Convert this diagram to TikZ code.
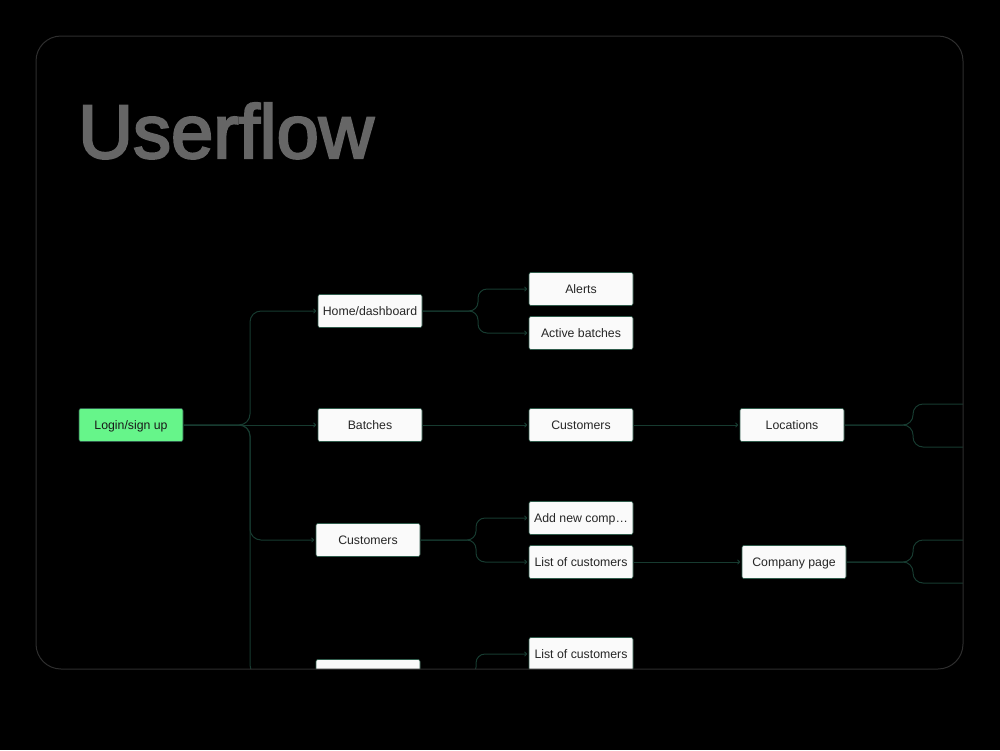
\documentclass[tikz,border=0pt]{standalone}
\usepackage{fontspec}
\setmainfont{Liberation Sans}
\newfontfamily\titlefont[FakeBold=3]{Liberation Sans}
\usepackage{tikz}
\usetikzlibrary{arrows.meta}
\definecolor{framecol}{HTML}{2E2E2E}
\definecolor{titlecol}{HTML}{666666}
\definecolor{boxcol}{HTML}{FAFAFA}
\definecolor{boxline}{HTML}{2F5B4B}
\definecolor{linkcol}{HTML}{173B30}
\definecolor{logincol}{HTML}{66F58A}

\begin{document}
\begin{tikzpicture}[x=1pt,y=-1pt]
\tikzstyle{screen}=[draw=boxline, line width=0.6pt, fill=boxcol,
                    rounded corners=2pt, minimum width=104pt,
                    minimum height=33pt, inner sep=0pt,
                    text height=11pt, text depth=2pt,
                    font=\fontsize{12.3}{14}\selectfont, text=black!85]
\tikzstyle{link}=[draw=linkcol, line width=1pt, rounded corners=11pt,
                  -{To[length=3pt,width=5pt]}, shorten >=1.5pt]
\tikzstyle{stub}=[draw=linkcol, line width=1pt, rounded corners=10pt]
\fill[black] (0,0) rectangle (1000,750);
\useasboundingbox (0,0) rectangle (1000,750);
\begin{scope}
\clip[rounded corners=25pt] (36,36) rectangle (963,669);
\node[anchor=base west, inner sep=0pt, text=titlecol,
      font=\titlefont\fontsize{76}{80}\selectfont] (title) at (78,158) {Userflow};
% first column
\node[screen, fill=logincol, text=black!90] (login) at (131,425) {Login/sign up};
% second column
\node[screen] (home) at (370,311) {Home/dashboard};
\node[screen] (batches) at (370,425) {Batches};
\node[screen] (cust) at (368,540) {Customers};
\node[screen] (more) at (368,676) {};
% third column
\node[screen] (alerts) at (581,289) {Alerts};
\node[screen] (active) at (581,333) {Active batches};
\node[screen] (custb) at (581,425) {Customers};
\node[screen] (addcomp) at (581,518) {Add new comp…};
\node[screen] (listcust) at (581,562) {List of customers};
\node[screen] (listcustb) at (581,654) {List of customers};
% fourth column
\node[screen] (loc) at (792,425) {Locations};
\node[screen] (comp) at (794,562) {Company page};
% branch points
\coordinate (trunk) at (250,425);
\coordinate (homefork) at (478,311);
\coordinate (custfork) at (476,540);
\coordinate (morefork) at (476,676);
\coordinate (locfork) at (913,425);
\coordinate (compfork) at (913,562);
\coordinate (locup) at (1000,404);
\coordinate (locdown) at (1000,447);
\coordinate (compup) at (1000,540);
\coordinate (compdown) at (1000,583);
% links
\draw[link] (login.east) -- (trunk) |- (home.west);
\draw[link] (login.east) -- (batches.west);
\draw[link] (login.east) -- (trunk) |- (cust.west);
\draw[link] (login.east) -- (trunk) |- (more.west);
\draw[link, rounded corners=9pt] (home.east) -- (homefork) |- (alerts.west);
\draw[link, rounded corners=9pt] (home.east) -- (homefork) |- (active.west);
\draw[link] (batches.east) -- (custb.west);
\draw[link, rounded corners=9pt] (cust.east) -- (custfork) |- (addcomp.west);
\draw[link, rounded corners=9pt] (cust.east) -- (custfork) |- (listcust.west);
\draw[link, rounded corners=9pt] (more.east) -- (morefork) |- (listcustb.west);
\draw[link] (custb.east) -- (loc.west);
\draw[link] (listcust.east) -- (comp.west);
\draw[stub] (loc.east) -- (locfork) |- (locup);
\draw[stub] (loc.east) -- (locfork) |- (locdown);
\draw[stub] (comp.east) -- (compfork) |- (compup);
\draw[stub] (comp.east) -- (compfork) |- (compdown);
\end{scope}
\draw[framecol, line width=1pt, rounded corners=25pt] (36,36) rectangle (963,669);
\end{tikzpicture}
\end{document}
